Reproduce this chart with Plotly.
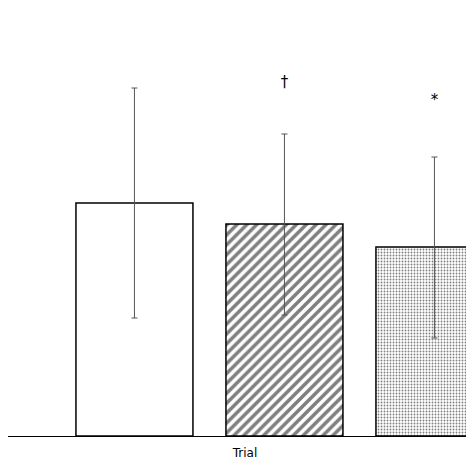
import plotly.graph_objects as go

categories = [0, 1, 2]
values = [233, 212, 189]
err_plus = [115, 90, 90]
err_minus = [115, 91, 91]
marks = ["", "†", "*"]
mark_y = [0, 353, 335]

fig = go.Figure()
fig.add_trace(go.Bar(
    x=categories, y=values, width=0.78,
    marker=dict(color="white", line=dict(color="black", width=1.5),
                pattern=dict(shape=["", "/", "."], fgcolor="black", bgcolor="white",
                             size=[8, 7, 3], solidity=[0.2, 0.5, 0.3])),
    error_y=dict(type="data", array=err_plus, arrayminus=err_minus,
                 color="#555555", thickness=1, width=3),
))
fig.add_trace(go.Scatter(x=categories, y=mark_y, mode="text", text=marks,
                         textfont=dict(size=15, color="black", family="DejaVu Sans")))
fig.update_layout(
    width=474, height=474, showlegend=False,
    plot_bgcolor="white", paper_bgcolor="white",
    margin=dict(l=0, r=0, t=0, b=46),
    xaxis=dict(range=[-0.843, 2.317], showticklabels=False, ticks="", showgrid=False,
               zeroline=False, showline=True, linecolor="black", linewidth=1,
               title=dict(text="Trial", font=dict(size=12, color="black", family="DejaVu Sans"), standoff=12)),
    yaxis=dict(range=[0, 428], visible=False),
)
fig.write_html("out.html")
